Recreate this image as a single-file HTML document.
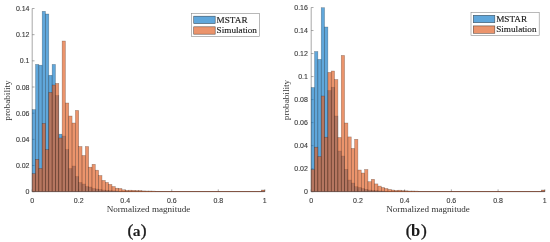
<!DOCTYPE html><html><head><meta charset="utf-8"><title>Histogram</title><style>html,body{margin:0;padding:0;background:#fff}svg{display:block}</style></head><body><svg width="550" height="242" viewBox="0 0 550 242"><rect width="550" height="242" fill="#fff"/><g stroke="#6e6e6e" stroke-width="0.6" fill="none"><path d="M32.2 8.5V191.7H264.8"/><path d="M32.20 191.7v-2.3"/><path d="M78.72 191.7v-2.3"/><path d="M125.24 191.7v-2.3"/><path d="M171.76 191.7v-2.3"/><path d="M218.28 191.7v-2.3"/><path d="M264.80 191.7v-2.3"/><path d="M32.2 191.70h2.3"/><path d="M32.2 165.53h2.3"/><path d="M32.2 139.36h2.3"/><path d="M32.2 113.19h2.3"/><path d="M32.2 87.01h2.3"/><path d="M32.2 60.84h2.3"/><path d="M32.2 34.67h2.3"/><path d="M32.2 8.50h2.3"/></g><g font-family="Liberation Sans, sans-serif" font-size="7" fill="#3a3a3a" stroke="#3a3a3a" stroke-width="0.12"><text x="32.20" y="202.5" text-anchor="middle">0</text><text x="78.72" y="202.5" text-anchor="middle">0.2</text><text x="125.24" y="202.5" text-anchor="middle">0.4</text><text x="171.76" y="202.5" text-anchor="middle">0.6</text><text x="218.28" y="202.5" text-anchor="middle">0.8</text><text x="264.80" y="202.5" text-anchor="middle">1</text><text x="29.50" y="194.20" text-anchor="end">0</text><text x="29.50" y="168.03" text-anchor="end">0.02</text><text x="29.50" y="141.86" text-anchor="end">0.04</text><text x="29.50" y="115.69" text-anchor="end">0.06</text><text x="29.50" y="89.51" text-anchor="end">0.08</text><text x="29.50" y="63.34" text-anchor="end">0.1</text><text x="29.50" y="37.17" text-anchor="end">0.12</text><text x="29.50" y="11.00" text-anchor="end">0.14</text></g><text x="148.50" y="211.6" text-anchor="middle" font-family="Liberation Serif, serif" font-size="9.1" fill="#333">Normalized magnitude</text><text transform="translate(10.30 100.50) rotate(-90)" text-anchor="middle" font-family="Liberation Serif, serif" font-size="9.2" fill="#333">probability</text><g fill="rgb(10,120,200)" fill-opacity="0.65" stroke="rgba(0,0,0,0.34)" stroke-width="0.55"><rect x="32.20" y="109.60" width="3.32" height="82.10"/><rect x="35.52" y="64.40" width="3.32" height="127.30"/><rect x="38.85" y="65.20" width="3.32" height="126.50"/><rect x="42.17" y="11.30" width="3.32" height="180.40"/><rect x="45.49" y="14.00" width="3.32" height="177.70"/><rect x="48.81" y="75.30" width="3.32" height="116.40"/><rect x="52.14" y="64.40" width="3.32" height="127.30"/><rect x="55.46" y="95.50" width="3.32" height="96.20"/><rect x="58.78" y="134.20" width="3.32" height="57.50"/><rect x="62.11" y="136.00" width="3.32" height="55.70"/><rect x="65.43" y="149.50" width="3.32" height="42.20"/><rect x="68.75" y="168.50" width="3.32" height="23.20"/><rect x="72.07" y="166.00" width="3.32" height="25.70"/><rect x="75.40" y="176.50" width="3.32" height="15.20"/><rect x="78.72" y="182.50" width="3.32" height="9.20"/><rect x="82.04" y="184.00" width="3.32" height="7.70"/><rect x="85.37" y="186.50" width="3.32" height="5.20"/><rect x="88.69" y="187.00" width="3.32" height="4.70"/><rect x="92.01" y="188.50" width="3.32" height="3.20"/><rect x="95.33" y="189.00" width="3.32" height="2.70"/><rect x="98.66" y="189.50" width="3.32" height="2.20"/><rect x="101.98" y="190.00" width="3.32" height="1.70"/><rect x="105.30" y="190.40" width="3.32" height="1.30"/><rect x="108.63" y="190.60" width="3.32" height="1.10"/><rect x="111.95" y="190.80" width="3.32" height="0.90"/><rect x="115.27" y="191.00" width="3.32" height="0.70"/><rect x="261.48" y="190.80" width="3.32" height="0.90"/></g><path d="M118.59 191.5H261.48" stroke="rgba(105,40,15,0.8)" stroke-width="0.55" fill="none"/><g fill="rgb(225,93,32)" fill-opacity="0.66" stroke="rgba(0,0,0,0.34)" stroke-width="0.55"><rect x="32.20" y="173.60" width="3.32" height="18.10"/><rect x="35.52" y="159.30" width="3.32" height="32.40"/><rect x="38.85" y="168.40" width="3.32" height="23.30"/><rect x="42.17" y="123.40" width="3.32" height="68.30"/><rect x="45.49" y="149.60" width="3.32" height="42.10"/><rect x="48.81" y="92.40" width="3.32" height="99.30"/><rect x="52.14" y="85.00" width="3.32" height="106.70"/><rect x="55.46" y="83.40" width="3.32" height="108.30"/><rect x="58.78" y="138.00" width="3.32" height="53.70"/><rect x="62.11" y="41.00" width="3.32" height="150.70"/><rect x="65.43" y="103.00" width="3.32" height="88.70"/><rect x="68.75" y="116.00" width="3.32" height="75.70"/><rect x="72.07" y="123.00" width="3.32" height="68.70"/><rect x="75.40" y="110.40" width="3.32" height="81.30"/><rect x="78.72" y="146.50" width="3.32" height="45.20"/><rect x="82.04" y="155.50" width="3.32" height="36.20"/><rect x="85.37" y="146.50" width="3.32" height="45.20"/><rect x="88.69" y="167.20" width="3.32" height="24.50"/><rect x="92.01" y="164.30" width="3.32" height="27.40"/><rect x="95.33" y="170.20" width="3.32" height="21.50"/><rect x="98.66" y="175.50" width="3.32" height="16.20"/><rect x="101.98" y="180.40" width="3.32" height="11.30"/><rect x="105.30" y="182.40" width="3.32" height="9.30"/><rect x="108.63" y="184.40" width="3.32" height="7.30"/><rect x="111.95" y="186.50" width="3.32" height="5.20"/><rect x="115.27" y="188.20" width="3.32" height="3.50"/><rect x="118.59" y="188.50" width="3.32" height="3.20"/><rect x="121.92" y="189.80" width="3.32" height="1.90"/><rect x="125.24" y="190.30" width="3.32" height="1.40"/><rect x="128.56" y="190.20" width="3.32" height="1.50"/><rect x="131.89" y="190.30" width="3.32" height="1.40"/><rect x="135.21" y="190.50" width="3.32" height="1.20"/><rect x="138.53" y="190.50" width="3.32" height="1.20"/><rect x="141.85" y="190.90" width="3.32" height="0.80"/><rect x="145.18" y="191.00" width="3.32" height="0.70"/><rect x="148.50" y="191.00" width="3.32" height="0.70"/><rect x="151.82" y="191.10" width="3.32" height="0.60"/><rect x="261.48" y="190.00" width="3.32" height="1.70"/></g><path d="M155.15 191.5H261.48" stroke="rgba(105,40,15,0.8)" stroke-width="0.55" fill="none"/><rect x="191.4" y="13.4" width="68.2" height="23" fill="#fff" stroke="#8a8a8a" stroke-width="0.6"/><rect x="193.70000000000002" y="16.2" width="21.5" height="7.4" fill="rgb(10,120,200)" fill-opacity="0.65" stroke="rgba(0,0,0,0.6)" stroke-width="0.6"/><rect x="193.70000000000002" y="26.8" width="21.5" height="7.4" fill="rgb(225,93,32)" fill-opacity="0.66" stroke="rgba(0,0,0,0.6)" stroke-width="0.6"/><g font-family="Liberation Serif, serif" font-size="9.2" fill="#1c1c1c" stroke="#1c1c1c" stroke-width="0.15"><text x="216.6" y="22.5">MSTAR</text><text x="216.6" y="33.1">Simulation</text></g><g stroke="#6e6e6e" stroke-width="0.6" fill="none"><path d="M311.2 7.5V191.7H544.8"/><path d="M311.20 191.7v-2.3"/><path d="M357.92 191.7v-2.3"/><path d="M404.64 191.7v-2.3"/><path d="M451.36 191.7v-2.3"/><path d="M498.08 191.7v-2.3"/><path d="M544.80 191.7v-2.3"/><path d="M311.2 191.70h2.3"/><path d="M311.2 168.67h2.3"/><path d="M311.2 145.65h2.3"/><path d="M311.2 122.62h2.3"/><path d="M311.2 99.60h2.3"/><path d="M311.2 76.58h2.3"/><path d="M311.2 53.55h2.3"/><path d="M311.2 30.52h2.3"/><path d="M311.2 7.50h2.3"/></g><g font-family="Liberation Sans, sans-serif" font-size="7" fill="#3a3a3a" stroke="#3a3a3a" stroke-width="0.12"><text x="311.20" y="202.5" text-anchor="middle">0</text><text x="357.92" y="202.5" text-anchor="middle">0.2</text><text x="404.64" y="202.5" text-anchor="middle">0.4</text><text x="451.36" y="202.5" text-anchor="middle">0.6</text><text x="498.08" y="202.5" text-anchor="middle">0.8</text><text x="544.80" y="202.5" text-anchor="middle">1</text><text x="307.90" y="193.90" text-anchor="end">0</text><text x="307.90" y="170.87" text-anchor="end">0.02</text><text x="307.90" y="147.85" text-anchor="end">0.04</text><text x="307.90" y="124.82" text-anchor="end">0.06</text><text x="307.90" y="101.80" text-anchor="end">0.08</text><text x="307.90" y="78.78" text-anchor="end">0.1</text><text x="307.90" y="55.75" text-anchor="end">0.12</text><text x="307.90" y="32.72" text-anchor="end">0.14</text><text x="307.90" y="9.70" text-anchor="end">0.16</text></g><text x="428.00" y="211.6" text-anchor="middle" font-family="Liberation Serif, serif" font-size="9.1" fill="#333">Normalized magnitude</text><text transform="translate(289.30 100.00) rotate(-90)" text-anchor="middle" font-family="Liberation Serif, serif" font-size="9.2" fill="#333">probability</text><g fill="rgb(10,120,200)" fill-opacity="0.65" stroke="rgba(0,0,0,0.34)" stroke-width="0.55"><rect x="311.20" y="87.50" width="3.34" height="104.20"/><rect x="314.54" y="51.50" width="3.34" height="140.20"/><rect x="317.87" y="59.40" width="3.34" height="132.30"/><rect x="321.21" y="7.70" width="3.34" height="184.00"/><rect x="324.55" y="27.00" width="3.34" height="164.70"/><rect x="327.89" y="90.50" width="3.34" height="101.20"/><rect x="331.22" y="87.20" width="3.34" height="104.50"/><rect x="334.56" y="116.00" width="3.34" height="75.70"/><rect x="337.90" y="151.00" width="3.34" height="40.70"/><rect x="341.23" y="156.00" width="3.34" height="35.70"/><rect x="344.57" y="169.30" width="3.34" height="22.40"/><rect x="347.91" y="180.00" width="3.34" height="11.70"/><rect x="351.25" y="183.00" width="3.34" height="8.70"/><rect x="354.58" y="186.70" width="3.34" height="5.00"/><rect x="357.92" y="187.50" width="3.34" height="4.20"/><rect x="361.26" y="188.50" width="3.34" height="3.20"/><rect x="364.59" y="189.30" width="3.34" height="2.40"/><rect x="367.93" y="190.00" width="3.34" height="1.70"/><rect x="371.27" y="190.30" width="3.34" height="1.40"/><rect x="374.61" y="190.60" width="3.34" height="1.10"/><rect x="377.94" y="190.90" width="3.34" height="0.80"/><rect x="381.28" y="191.00" width="3.34" height="0.70"/><rect x="541.46" y="190.80" width="3.34" height="0.90"/></g><path d="M384.62 191.5H541.46" stroke="rgba(105,40,15,0.8)" stroke-width="0.55" fill="none"/><g fill="rgb(225,93,32)" fill-opacity="0.66" stroke="rgba(0,0,0,0.34)" stroke-width="0.55"><rect x="311.20" y="169.50" width="3.34" height="22.20"/><rect x="314.54" y="147.20" width="3.34" height="44.50"/><rect x="317.87" y="156.50" width="3.34" height="35.20"/><rect x="321.21" y="96.00" width="3.34" height="95.70"/><rect x="324.55" y="137.20" width="3.34" height="54.50"/><rect x="327.89" y="72.40" width="3.34" height="119.30"/><rect x="331.22" y="71.00" width="3.34" height="120.70"/><rect x="334.56" y="79.50" width="3.34" height="112.20"/><rect x="337.90" y="137.50" width="3.34" height="54.20"/><rect x="341.23" y="55.40" width="3.34" height="136.30"/><rect x="344.57" y="123.00" width="3.34" height="68.70"/><rect x="347.91" y="136.90" width="3.34" height="54.80"/><rect x="351.25" y="148.40" width="3.34" height="43.30"/><rect x="354.58" y="139.30" width="3.34" height="52.40"/><rect x="357.92" y="170.00" width="3.34" height="21.70"/><rect x="361.26" y="173.00" width="3.34" height="18.70"/><rect x="364.59" y="169.50" width="3.34" height="22.20"/><rect x="367.93" y="181.70" width="3.34" height="10.00"/><rect x="371.27" y="179.30" width="3.34" height="12.40"/><rect x="374.61" y="183.90" width="3.34" height="7.80"/><rect x="377.94" y="186.10" width="3.34" height="5.60"/><rect x="381.28" y="187.50" width="3.34" height="4.20"/><rect x="384.62" y="188.50" width="3.34" height="3.20"/><rect x="387.95" y="189.40" width="3.34" height="2.30"/><rect x="391.29" y="190.00" width="3.34" height="1.70"/><rect x="394.63" y="190.40" width="3.34" height="1.30"/><rect x="397.97" y="190.20" width="3.34" height="1.50"/><rect x="401.30" y="190.60" width="3.34" height="1.10"/><rect x="404.64" y="190.80" width="3.34" height="0.90"/><rect x="407.98" y="191.00" width="3.34" height="0.70"/><rect x="411.31" y="191.00" width="3.34" height="0.70"/><rect x="414.65" y="191.10" width="3.34" height="0.60"/><rect x="541.46" y="190.00" width="3.34" height="1.70"/></g><path d="M417.99 191.5H541.46" stroke="rgba(105,40,15,0.8)" stroke-width="0.55" fill="none"/><rect x="471" y="12.5" width="68.2" height="23" fill="#fff" stroke="#8a8a8a" stroke-width="0.6"/><rect x="473.3" y="15.3" width="21.5" height="7.4" fill="rgb(10,120,200)" fill-opacity="0.65" stroke="rgba(0,0,0,0.6)" stroke-width="0.6"/><rect x="473.3" y="25.9" width="21.5" height="7.4" fill="rgb(225,93,32)" fill-opacity="0.66" stroke="rgba(0,0,0,0.6)" stroke-width="0.6"/><g font-family="Liberation Serif, serif" font-size="9.2" fill="#1c1c1c" stroke="#1c1c1c" stroke-width="0.15"><text x="496.2" y="21.6">MSTAR</text><text x="496.2" y="32.2">Simulation</text></g><g font-family="Liberation Serif, serif" fill="#1a1a1a"><text x="127.4" y="235.8" font-size="17.5" stroke="#1a1a1a" stroke-width="0.35">(</text><text x="132.8" y="235.9" font-size="15.6" font-weight="bold">a</text><text x="140.70000000000002" y="235.8" font-size="17.5" stroke="#1a1a1a" stroke-width="0.35">)</text></g><g font-family="Liberation Serif, serif" fill="#1a1a1a"><text x="405.7" y="235.8" font-size="17.5" stroke="#1a1a1a" stroke-width="0.35">(</text><text x="411.09999999999997" y="235.9" font-size="16.6" font-weight="bold">b</text><text x="420.9" y="235.8" font-size="17.5" stroke="#1a1a1a" stroke-width="0.35">)</text></g></svg></body></html>
